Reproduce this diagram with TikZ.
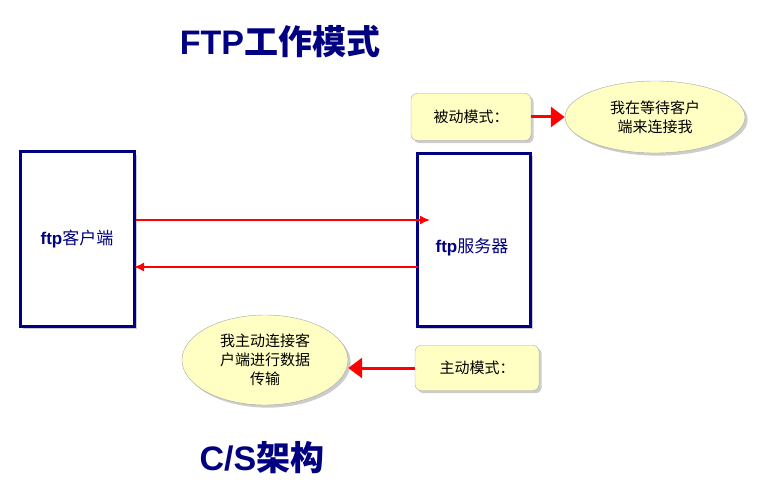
\documentclass[tikz,border=0pt]{standalone}
\usepackage{fontspec}
\setmainfont{Liberation Sans}
\newfontfamily\cjk{Noto Sans CJK SC}
\usetikzlibrary{shapes.geometric,shadows,arrows.meta}
\definecolor{navy}{RGB}{0,0,128}
\definecolor{ylw}{RGB}{255,255,196}
\tikzset{
 bigbox/.style={draw=navy,line width=3pt,fill=white,drop shadow={opacity=0.4}},
 note/.style={draw=gray!70,rounded corners=6pt,fill=ylw,drop shadow={opacity=0.4},font=\cjk\fontsize{15}{18}\selectfont},
 bub/.style={ellipse,draw=gray!70,fill=ylw,drop shadow={opacity=0.4},font=\cjk\fontsize{15}{19}\selectfont,align=center,inner sep=0pt},
 redarr/.style={red,line width=1.5pt,-{Latex[length=10pt,width=9pt]}},
 fatarr/.style={red,line width=3pt,-{Triangle[length=14pt,width=20pt]}},
 title/.style={navy,font=\cjk\bfseries\fontsize{34}{38}\selectfont},
 lbl/.style={navy,font=\cjk\fontsize{17}{20}\selectfont}
}
\begin{document}
\begin{tikzpicture}[x=1pt,y=-1pt]
\useasboundingbox (0,0) rectangle (766,500);
\node[title] (t1) at (280,42) {{\fontspec{Liberation Sans}\bfseries FTP}工作模式};
\node[title] (t2) at (262,458) {{\fontspec{Liberation Sans}\bfseries C/S}架构};
\node[bigbox,minimum width=114pt,minimum height=174pt] (cl) at (77,239) {};
\node[lbl] at (cl) {{\fontspec{Liberation Sans}\bfseries ftp}客户端};
\node[bigbox,minimum width=113pt,minimum height=173pt] (sv) at (474,240) {};
\node[lbl] at (472,247) {{\fontspec{Liberation Sans}\bfseries ftp}服务器};
\coordinate (a1) at (136,220); \coordinate (a2) at (430,220);
\draw[redarr] (a1) -- (a2);
\coordinate (b1) at (418,267); \coordinate (b2) at (134,267);
\draw[redarr] (b1) -- (b2);
\node[note,minimum width=120pt,minimum height=47pt] (pm) at (471,117) {被动模式：};
\node[bub,minimum width=180pt,minimum height=72pt] (pe) at (655,117) {我在等待客户\\端来连接我};
\draw[fatarr] (pm.east) -- (pe.west);
\node[note,minimum width=124pt,minimum height=45pt] (am) at (477,368) {主动模式：};
\node[bub,minimum width=166pt,minimum height=90pt] (ae) at (265,360) {我主动连接客\\户端进行数据\\传输};
\draw[fatarr] (am.west) -- (ae.east|-am.west);
\end{tikzpicture}
\end{document}
